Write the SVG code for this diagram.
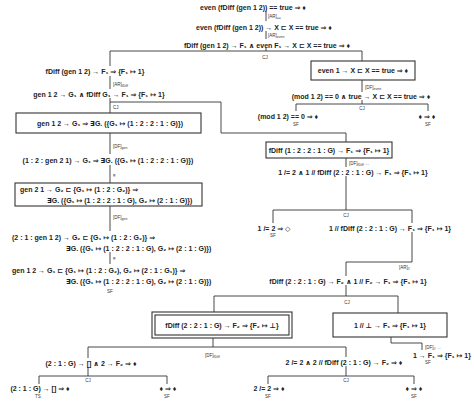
<svg xmlns="http://www.w3.org/2000/svg" width="474" height="401" viewBox="0 0 474 401">
<style>
text{font-family:"Liberation Sans","DejaVu Sans",Arial,sans-serif;fill:#111}
.t{font-size:7px;font-weight:bold;fill:#222}
.m{text-anchor:middle}
.l{font-size:4.5px;fill:#333}
.sb{font-size:3.5px}
.box{fill:#fff;stroke:#333;stroke-width:1.1}
.c{fill:none;stroke:#333;stroke-width:0.9}
</style>
<rect width="474" height="401" fill="#fff"/>
<g id="connectors" class="c">
<path d="M266,11V21M266,31V39"/>
<path d="M266,48V51M110,51H362M110,51V66M362,51V61"/>
<path d="M110,76V89"/>
<path d="M110,98V102H221V133H346V142M110,102V113"/>
<path d="M362,80V92M362,100V104M296,104H428M296,104V111M428,104V111"/>
<path d="M110,133V154M110,165V183M110,206V231M110,252V264"/>
<path d="M346,158V167M346,176V210M273,210H412M273,210V223M412,210V223"/>
<path d="M412,232V262H346V276"/>
<path d="M346,285V296M214,296H398M214,296V312M398,296V313"/>
<path d="M213,338V347M88,347H346M88,347V358M346,347V357"/>
<path d="M88,367V376M39,376H167M39,376V384M167,376V384"/>
<path d="M346,366V376M268,376H414M268,376V384M414,376V384"/>
<path d="M391,337V343H422V350"/>
</g>
<g id="labels">
<text class="l" x="268" y="18">[AR]<tspan class="sb" dy="1.2">==</tspan></text>
<text class="l" x="268" y="37">[AR]<tspan class="sb" dy="1.2">even</tspan></text>
<text class="l m" x="265" y="59">CJ</text>
<text class="l" x="113" y="86">[AR]<tspan class="sb" dy="1.2">fDiff</tspan></text>
<text class="l" x="113" y="108.5">CJ</text>
<text class="l" x="365" y="89">[DF]<tspan class="sb" dy="1.2">even</tspan></text>
<text class="l m" x="362" y="110">CJ</text>
<text class="l" x="113" y="148">[DF]<tspan class="sb" dy="1.2">gen</tspan></text>
<text class="l" x="113" y="177">≡</text>
<text class="l" x="113" y="219">[DF]<tspan class="sb" dy="1.2">gen</tspan></text>
<text class="l" x="113" y="260">≡</text>
<text class="l" x="349" y="165">[DF]<tspan class="sb" dy="1.2">fDiff</tspan><tspan dy="-1.2"> ↔</tspan></text>
<text class="l m" x="346" y="217">CJ</text>
<text class="l" x="399" y="269">[AR]<tspan class="sb" dy="1.2">//</tspan></text>
<text class="l m" x="347" y="304">CJ</text>
<text class="l" x="205" y="357">[DF]<tspan class="sb" dy="1.2">fDiff</tspan></text>
<text class="l" x="425" y="349">[DF]<tspan class="sb" dy="1.2">//</tspan><tspan dy="-1.2"> ↔</tspan></text>
<text class="l m" x="88" y="382">CJ</text>
<text class="l m" x="346" y="382">CJ</text>
</g>
<g id="n1"><text class="t m" x="253" y="9.5">even (fDiff (gen 1 2)) == true ⇒ ♦</text></g>
<g id="n2"><text class="t m" x="264" y="29.5">even (fDiff (gen 1 2)) → X ⊏ X == true ⇒ ♦</text></g>
<g id="n3"><text class="t m" x="267" y="47.5">fDiff (gen 1 2) → F₁ ∧ even F₁ → X ⊏ X == true ⇒ ♦</text></g>
<g id="n4"><text class="t m" x="95" y="73.5">fDiff (gen 1 2) → F₁ ⇒ {F₁ ↦ 1}</text></g>
<g id="n5"><text class="t m" x="99" y="96.5">gen 1 2 → G₁ ∧ fDiff G₁ → F₁ ⇒ {F₁ ↦ 1}</text></g>
<g id="n6"><rect class="box" x="16" y="113" width="185" height="20"/><text class="t m" x="110" y="125.5">gen 1 2 → G₁ ⇒ ∃G. ({G₁ ↦ (1 : 2 : 2 : 1 : G)})</text></g>
<g id="n7"><text class="t m" x="108" y="162.5">(1 : 2 : gen 2 1) → G₁ ⇒ ∃G. ({G₁ ↦ (1 : 2 : 2 : 1 : G)})</text></g>
<g id="n8"><rect class="box" x="15" y="183" width="187" height="23"/><text class="t" x="20" y="191.5">gen 2 1 → G₂ ⊏ {G₁ ↦ (1 : 2 : G₂)} ⇒</text><text class="t" x="47" y="202.5">∃G. ({G₁ ↦ (1 : 2 : 2 : 1 : G), G₂ ↦ (2 : 1 : G)})</text></g>
<g id="n9"><text class="t" x="12" y="239.5">(2 : 1 : gen 1 2) → G₂ ⊏ {G₁ ↦ (1 : 2 : G₂)} ⇒</text><text class="t" x="66" y="250.5">∃G. ({G₁ ↦ (1 : 2 : 2 : 1 : G), G₂ ↦ (2 : 1 : G)})</text></g>
<g id="n10"><text class="t" x="12" y="272.5">gen 1 2 → G₁ ⊏ {G₁ ↦ (1 : 2 : G₂), G₂ ↦ (2 : 1 : G₁)} ⇒</text><text class="t" x="66" y="283.5">∃G. ({G₁ ↦ (1 : 2 : 2 : 1 : G), G₂ ↦ (2 : 1 : G)})</text><text class="l m" x="110" y="293">SF</text></g>
<g id="n11"><rect class="box" x="311" y="61" width="104" height="19"/><text class="t m" x="363" y="73">even 1 → X ⊏ X == true ⇒ ♦</text></g>
<g id="n12"><text class="t m" x="361" y="98.5">(mod 1 2) == 0 ∧ true → X ⊏ X == true ⇒ ♦</text></g>
<g id="n13"><text class="t m" x="288" y="118.5">(mod 1 2) == 0 ⇒ ♦</text><text class="l m" x="296" y="126">SF</text></g>
<g id="n14"><text class="t m" x="427" y="118.5">♦ ⇒ ♦</text><text class="l m" x="428" y="126">SF</text></g>
<g id="n15"><rect class="box" x="266" y="142" width="126" height="16"/><text class="t m" x="329" y="152.5">fDiff (1 : 2 : 2 : 1 : G) → F₁ ⇒ {F₁ ↦ 1}</text></g>
<g id="n16"><text class="t m" x="353" y="174.5">1 /= 2 ∧ 1 // fDiff (2 : 2 : 1 : G) → F₁ ⇒ {F₁ ↦ 1}</text></g>
<g id="n17"><text class="t m" x="274" y="230.5">1 /= 2 ⇒ ◇</text><text class="l m" x="273" y="237">SF</text></g>
<g id="n18"><text class="t m" x="390" y="230.5">1 // fDiff (2 : 2 : 1 : G) → F₁ ⇒ {F₁ ↦ 1}</text></g>
<g id="n19"><text class="t m" x="348" y="283.5">fDiff (2 : 2 : 1 : G) → F₂ ∧ 1 // F₂ → F₁ ⇒ {F₁ ↦ 1}</text></g>
<g id="n20"><rect class="box" x="152" y="312" width="140" height="26" stroke-width="1.6"/><rect class="box" x="155" y="315" width="134" height="20"/><text class="t m" x="222" y="327.5">fDiff (2 : 2 : 1 : G) → F₂ ⇒ {F₂ ↦ ⊥}</text></g>
<g id="n21"><rect class="box" x="333" y="313" width="114" height="24"/><text class="t m" x="390" y="327.5">1 // ⊥ → F₁ ⇒ {F₁ ↦ 1}</text></g>
<g id="n22"><text class="t m" x="442" y="357.5">1 → F₁ ⇒ {F₁ ↦ 1}</text><text class="l m" x="428" y="364">SF</text></g>
<g id="n23"><text class="t m" x="91" y="365.5">(2 : 1 : G) → [] ∧ 2 → F₂ ⇒ ♦</text></g>
<g id="n24"><text class="t m" x="40" y="390.5">(2 : 1 : G) → [] ⇒ ♦</text><text class="l m" x="38" y="398">TS</text></g>
<g id="n25"><text class="t m" x="168" y="390.5">♦ ⇒ ♦</text><text class="l m" x="167" y="398">SF</text></g>
<g id="n26"><text class="t m" x="344" y="364.5">2 /= 2 ∧ 2 // fDiff (2 : 1 : G) → F₂ ⇒ ♦</text></g>
<g id="n27"><text class="t m" x="269" y="390.5">2 /= 2 ⇒ ♦</text><text class="l m" x="268" y="398">SF</text></g>
<g id="n28"><text class="t m" x="414" y="390.5">♦ ⇒ ♦</text><text class="l m" x="414" y="398">SF</text></g>
</svg>
